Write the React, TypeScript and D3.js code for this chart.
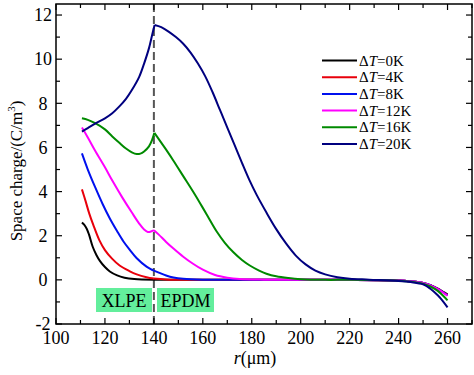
import React from "react";
import * as d3 from "d3";

const xTicksMajor = [100, 120, 140, 160, 180, 200, 220, 240, 260];
const yTicksMajor = [-2, 0, 2, 4, 6, 8, 10, 12];

const seriesNames = ["0K", "4K", "8K", "12K", "16K", "20K"];
const seriesColors = ["#000000", "#e8000b", "#0010ee", "#ff00ff", "#008a00", "#00007f"];

const dT0: [number, number][] = [
  [110.6, 2.6], [111.5, 2.5], [112.5, 2.33], [113.5, 2.05], [115, 1.5], [116.5, 1.13], [118, 0.85],
  [120, 0.58], [122, 0.38], [125, 0.2], [128, 0.1], [132, 0.04], [140, 0.01], [150, 0], [220, 0],
  [240, -0.03], [245, -0.07], [250, -0.14], [253, -0.24], [256, -0.4], [258, -0.53], [260, -0.66],
];
const dT4: [number, number][] = [
  [110.6, 4.1], [112, 3.6], [113.6, 3.0], [115.2, 2.5], [117.7, 1.8], [120, 1.35], [123, 0.95],
  [126, 0.65], [130, 0.4], [133, 0.25], [137, 0.12], [140, 0.06], [145, 0.02], [155, 0], [220, 0],
  [240, -0.03], [245, -0.07], [250, -0.14], [253, -0.24], [256, -0.4], [258, -0.54], [260, -0.68],
];
const dT8: [number, number][] = [
  [110.6, 5.73], [113, 5.0], [116, 4.2], [119, 3.45], [122, 2.78], [125, 2.2], [127.5, 1.75],
  [130, 1.38], [133, 0.98], [137, 0.6], [139, 0.47], [140, 0.42], [142, 0.33], [145, 0.2],
  [148, 0.11], [152, 0.05], [160, 0.01], [170, 0], [220, 0],
  [240, -0.03], [245, -0.07], [250, -0.14], [253, -0.24], [256, -0.41], [258, -0.55], [260, -0.7],
];
const dT12: [number, number][] = [
  [110.6, 6.9], [113, 6.45], [116, 5.85], [120, 5.1], [123, 4.5], [127, 3.75], [131, 3.05],
  [134, 2.55], [136, 2.28], [137.5, 2.17], [139, 2.2], [140, 2.25], [142, 2.05], [145, 1.72],
  [148, 1.42], [152, 1.05], [156, 0.73], [160, 0.46], [165, 0.22], [170, 0.1], [175, 0.04],
  [185, 0.01], [200, 0], [220, 0],
  [240, -0.03], [245, -0.07], [250, -0.14], [253, -0.25], [256, -0.42], [258, -0.56], [260, -0.72],
];
const dT16: [number, number][] = [
  [110.6, 7.32], [113, 7.25], [116, 7.1], [120, 6.82], [123, 6.5], [126, 6.2], [128.6, 5.95],
  [131, 5.78], [133, 5.7], [134.5, 5.72], [136, 5.82], [138, 6.05], [139.3, 6.35], [140.2, 6.66],
  [142, 6.38], [145, 5.9], [148, 5.4], [152, 4.7], [156, 4.0], [159, 3.45], [162, 2.88],
  [165.6, 2.2], [169, 1.68], [172.4, 1.26], [176, 0.9], [179.2, 0.65], [183, 0.42], [186, 0.28],
  [190, 0.16], [195, 0.08], [200, 0.03], [210, 0], [220, 0],
  [240, -0.04], [245, -0.08], [250, -0.17], [253, -0.3], [256, -0.5], [258, -0.7], [260, -0.93],
];
const dT20: [number, number][] = [
  [110.6, 6.72], [113, 6.88], [116, 7.08], [120, 7.32], [123, 7.55], [126, 7.87], [128.6, 8.2],
  [131, 8.6], [134, 9.2], [136, 9.8], [138, 10.5], [139.5, 11.2], [140.3, 11.55],
  [143, 11.45], [146, 11.25], [149, 11.0], [152, 10.7], [155, 10.3], [158, 9.8], [161, 9.22],
  [164, 8.5], [167, 7.7], [170, 6.9], [173, 6.1], [176, 5.3], [179, 4.53], [182, 3.85],
  [186, 3.05], [190, 2.3], [194, 1.65], [198, 1.1], [202, 0.7], [206, 0.42], [210, 0.25],
  [215, 0.12], [220, 0.05], [228, 0.01],
  [240, -0.05], [245, -0.1], [250, -0.2], [253, -0.4], [256, -0.7], [258, -0.95], [260, -1.25],
];

const allSeries = [dT0, dT4, dT8, dT12, dT16, dT20];

const W = 474;
const H = 375;
const left = 56, right = 472, top = 4, bottom = 324;

export default function App() {
  const x = d3.scaleLinear().domain([100, 270]).range([left, right]);
  const y = d3.scaleLinear().domain([-2, 12.5]).range([bottom, top]);
  const line = d3
    .line<[number, number]>()
    .x((d) => x(d[0]))
    .y((d) => y(d[1]))
    .curve(d3.curveCatmullRom.alpha(0.5));

  const xMinor = d3.range(100, 271, 10);
  const yMinor = d3.range(-2, 12.5, 1);
  const ts = { fontFamily: "Liberation Serif" };

  return (
    <svg width={W} height={H} style={{ position: "absolute", left: 0, top: 0, background: "#fff" }}>
      <rect x={0} y={0} width={W} height={H} fill="#fff" />
      <rect x={96} y={288} width={56} height={24} fill="#63ee9c" />
      <rect x={157} y={288} width={57} height={24} fill="#63ee9c" />
      <text x={124} y={306.5} style={ts} fontSize={18} textAnchor="middle">XLPE</text>
      <text x={185.5} y={306.5} style={ts} fontSize={18} textAnchor="middle">EPDM</text>

      <line x1={x(140)} x2={x(140)} y1={top} y2={bottom} stroke="#555" strokeWidth={2} strokeDasharray="8,4" />

      {allSeries.map((s, i) => {
        const splitIdx = s.findIndex((p) => p[0] >= 139.9);
        const a = s.slice(0, splitIdx + 1);
        const b = s.slice(splitIdx);
        return (
          <g key={i} fill="none" stroke={seriesColors[i]} strokeWidth={2}>
            <path d={line(a) || ""} />
            <path d={line(b) || ""} />
          </g>
        );
      })}

      <rect x={left} y={top} width={right - left} height={bottom - top} fill="none" stroke="#000" strokeWidth={1.5} />

      {xMinor.map((v) => {
        const major = v % 20 === 0;
        const len = major ? 6 : 4;
        return (
          <g key={"xt" + v} stroke="#000" strokeWidth={1.2}>
            <line x1={x(v)} x2={x(v)} y1={bottom} y2={bottom - len} />
            <line x1={x(v)} x2={x(v)} y1={top} y2={top + len} />
          </g>
        );
      })}
      {yMinor.map((v) => {
        const major = v % 2 === 0;
        const len = major ? 6 : 4;
        return (
          <g key={"yt" + v} stroke="#000" strokeWidth={1.2}>
            <line x1={left} x2={left + len} y1={y(v)} y2={y(v)} />
            <line x1={right} x2={right - len} y1={y(v)} y2={y(v)} />
          </g>
        );
      })}
      {xTicksMajor.map((v) => (
        <text key={"xl" + v} x={x(v)} y={344} style={ts} fontSize={18} textAnchor="middle">
          {v}
        </text>
      ))}
      {yTicksMajor.map((v) => (
        <text key={"yl" + v} x={43} y={y(v)} dy="0.35em" style={ts} fontSize={18} textAnchor="middle">
          {v}
        </text>
      ))}

      <text x={255} y={364} style={ts} fontSize={18} textAnchor="middle">
        <tspan fontStyle="italic">r</tspan>(μm)
      </text>
      <text transform={`translate(22,171) rotate(-90)`} style={ts} fontSize={17} textAnchor="middle">
        Space charge/(C/m<tspan fontSize={11} dy={-7}>3</tspan><tspan dy={7}>)</tspan>
      </text>

      {seriesNames.map((n, i) => {
        const ly = 60.5 + i * 16.7;
        return (
          <g key={"lg" + i}>
            <line x1={322} x2={357} y1={ly} y2={ly} stroke={seriesColors[i]} strokeWidth={2} />
            <text x={359} y={ly + 5} style={ts} fontSize={15}>
              Δ<tspan fontStyle="italic">T</tspan>={n}
            </text>
          </g>
        );
      })}
    </svg>
  );
}
